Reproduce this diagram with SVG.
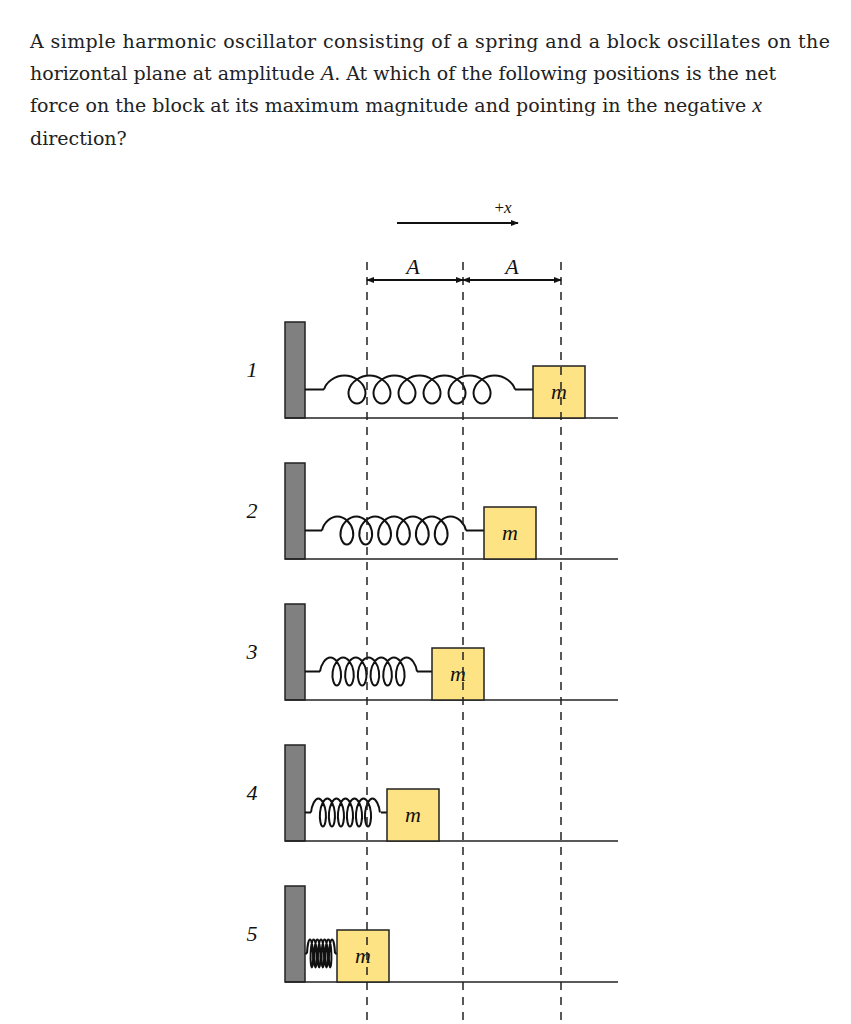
<svg xmlns="http://www.w3.org/2000/svg" width="851" height="1024" viewBox="0 0 851 1024">
<style>
.q{font-family:"DejaVu Serif","Liberation Serif",serif;font-size:19px;fill:#222}
.mi{font-family:"Liberation Serif",serif;font-style:italic}
.wall{fill:#808080;stroke:#222;stroke-width:1.5}
.blk{fill:#fde383;stroke:#222;stroke-width:1.5}
.gnd{stroke:#222;stroke-width:1.5}
.ln{stroke:#111;stroke-width:2;fill:none}
.dash{stroke:#222;stroke-width:1.5;stroke-dasharray:8 7}
.lbl{font-family:"Liberation Serif",serif;font-style:italic;font-size:22px;fill:#111}
</style>
<defs>
<path id="coil" vector-effect="non-scaling-stroke" fill="none" stroke="#111" stroke-width="2" d="M0,0 c2.05,-7.33 10.77,-14 20.15,-14 c9.38,0 18.11,6.67 20.16,14 c2.05,7.33 -2.57,14 -7.85,14 c-5.28,0 -9.89,-6.67 -7.84,-14 c2.05,-7.33 10.77,-14 20.15,-14 c9.38,0 18.11,6.67 20.16,14 c2.05,7.33 -2.57,14 -7.85,14 c-5.28,0 -9.89,-6.67 -7.84,-14 c2.05,-7.33 10.77,-14 20.15,-14 c9.38,0 18.11,6.67 20.16,14 c2.05,7.33 -2.57,14 -7.85,14 c-5.28,0 -9.89,-6.67 -7.84,-14 c2.05,-7.33 10.77,-14 20.15,-14 c9.38,0 18.11,6.67 20.16,14 c2.05,7.33 -2.57,14 -7.85,14 c-5.28,0 -9.89,-6.67 -7.84,-14 c2.05,-7.33 10.77,-14 20.15,-14 c9.38,0 18.11,6.67 20.16,14 c2.05,7.33 -2.57,14 -7.85,14 c-5.28,0 -9.89,-6.67 -7.84,-14 c2.05,-7.33 10.77,-14 20.15,-14 c9.38,0 18.11,6.67 20.16,14 c2.05,7.33 -2.57,14 -7.85,14 c-5.28,0 -9.89,-6.67 -7.84,-14 c2.05,-7.33 10.77,-14 20.15,-14 c9.38,0 18.11,6.67 20.16,14"/>
<marker id="ah" viewBox="0 0 10 10" refX="9" refY="5" markerWidth="8" markerHeight="8" markerUnits="userSpaceOnUse" orient="auto-start-reverse"><path d="M0,1 L10,5 L0,9 z" fill="#111"/></marker>
</defs>
<g id="question" class="q">
<text x="30" y="48" textLength="800">A simple harmonic oscillator consisting of a spring and a block oscillates on the</text>
<text x="30" y="80">horizontal plane at amplitude <tspan class="mi" font-size="22">A</tspan>. At which of the following positions is the net</text>
<text x="30" y="112">force on the block at its maximum magnitude and pointing in the negative <tspan class="mi" font-size="22">x</tspan></text>
<text x="30" y="145">direction?</text>
</g>
<g id="labels" class="lbl">
<text x="503" y="213" font-size="17" font-style="normal" text-anchor="middle">+<tspan font-style="italic">x</tspan></text>
<text x="413" y="274" text-anchor="middle">A</text>
<text x="512" y="274" text-anchor="middle">A</text>
<text x="252" y="377" text-anchor="middle">1</text>
<text x="252" y="518" text-anchor="middle">2</text>
<text x="252" y="659" text-anchor="middle">3</text>
<text x="252" y="800" text-anchor="middle">4</text>
<text x="252" y="941" text-anchor="middle">5</text>
</g>
<g id="row1">
<rect class="wall" x="285" y="322" width="20" height="96"/>
<line class="gnd" x1="285" y1="418" x2="618" y2="418"/>
<path class="ln" d="M305,389.5 H324 M515,389.5 H533"/>
<use href="#coil" transform="translate(324,389.5) scale(1.016,1)"/>
<rect class="blk" x="533" y="366" width="52" height="52"/>
<text class="lbl" x="559" y="399" text-anchor="middle">m</text>
</g>
<g id="row2">
<rect class="wall" x="285" y="463" width="20" height="96"/>
<line class="gnd" x1="285" y1="559" x2="618" y2="559"/>
<path class="ln" d="M305,530.5 H322 M466,530.5 H484"/>
<use href="#coil" transform="translate(322,530.5) scale(0.766,1)"/>
<rect class="blk" x="484" y="507" width="52" height="52"/>
<text class="lbl" x="510" y="540" text-anchor="middle">m</text>
</g>
<g id="row3">
<rect class="wall" x="285" y="604" width="20" height="96"/>
<line class="gnd" x1="285" y1="700" x2="618" y2="700"/>
<path class="ln" d="M305,671.5 H320 M417,671.5 H432"/>
<use href="#coil" transform="translate(320,671.5) scale(0.516,1)"/>
<rect class="blk" x="432" y="648" width="52" height="52"/>
<text class="lbl" x="458" y="681" text-anchor="middle">m</text>
</g>
<g id="row4">
<rect class="wall" x="285" y="745" width="20" height="96"/>
<line class="gnd" x1="285" y1="841" x2="618" y2="841"/>
<path class="ln" d="M305,812.5 H311 M381,812.5 H387"/>
<use href="#coil" transform="translate(311,812.5) scale(0.3665,1)"/>
<rect class="blk" x="387" y="789" width="52" height="52"/>
<text class="lbl" x="413" y="822" text-anchor="middle">m</text>
</g>
<g id="row5">
<rect class="wall" x="285" y="886" width="20" height="96"/>
<line class="gnd" x1="285" y1="982" x2="618" y2="982"/>
<path class="ln" d="M305,953.5 H307 M335,953.5 H337"/>
<use href="#coil" transform="translate(307,953.5) scale(0.149,1)"/>
<rect class="blk" x="337" y="930" width="52" height="52"/>
<text class="lbl" x="363" y="963" text-anchor="middle">m</text>
</g>
<g id="connectors">
<line class="dash" x1="367" y1="262" x2="367" y2="1022"/>
<line class="dash" x1="463" y1="262" x2="463" y2="1022"/>
<line class="dash" x1="561" y1="262" x2="561" y2="1022"/>
<line class="ln" stroke-width="1.5" x1="397" y1="223" x2="518" y2="223" marker-end="url(#ah)"/>
<line class="ln" stroke-width="1.5" x1="367" y1="280" x2="463" y2="280" marker-start="url(#ah)" marker-end="url(#ah)"/>
<line class="ln" stroke-width="1.5" x1="463" y1="280" x2="561" y2="280" marker-start="url(#ah)" marker-end="url(#ah)"/>
</g>
</svg>
